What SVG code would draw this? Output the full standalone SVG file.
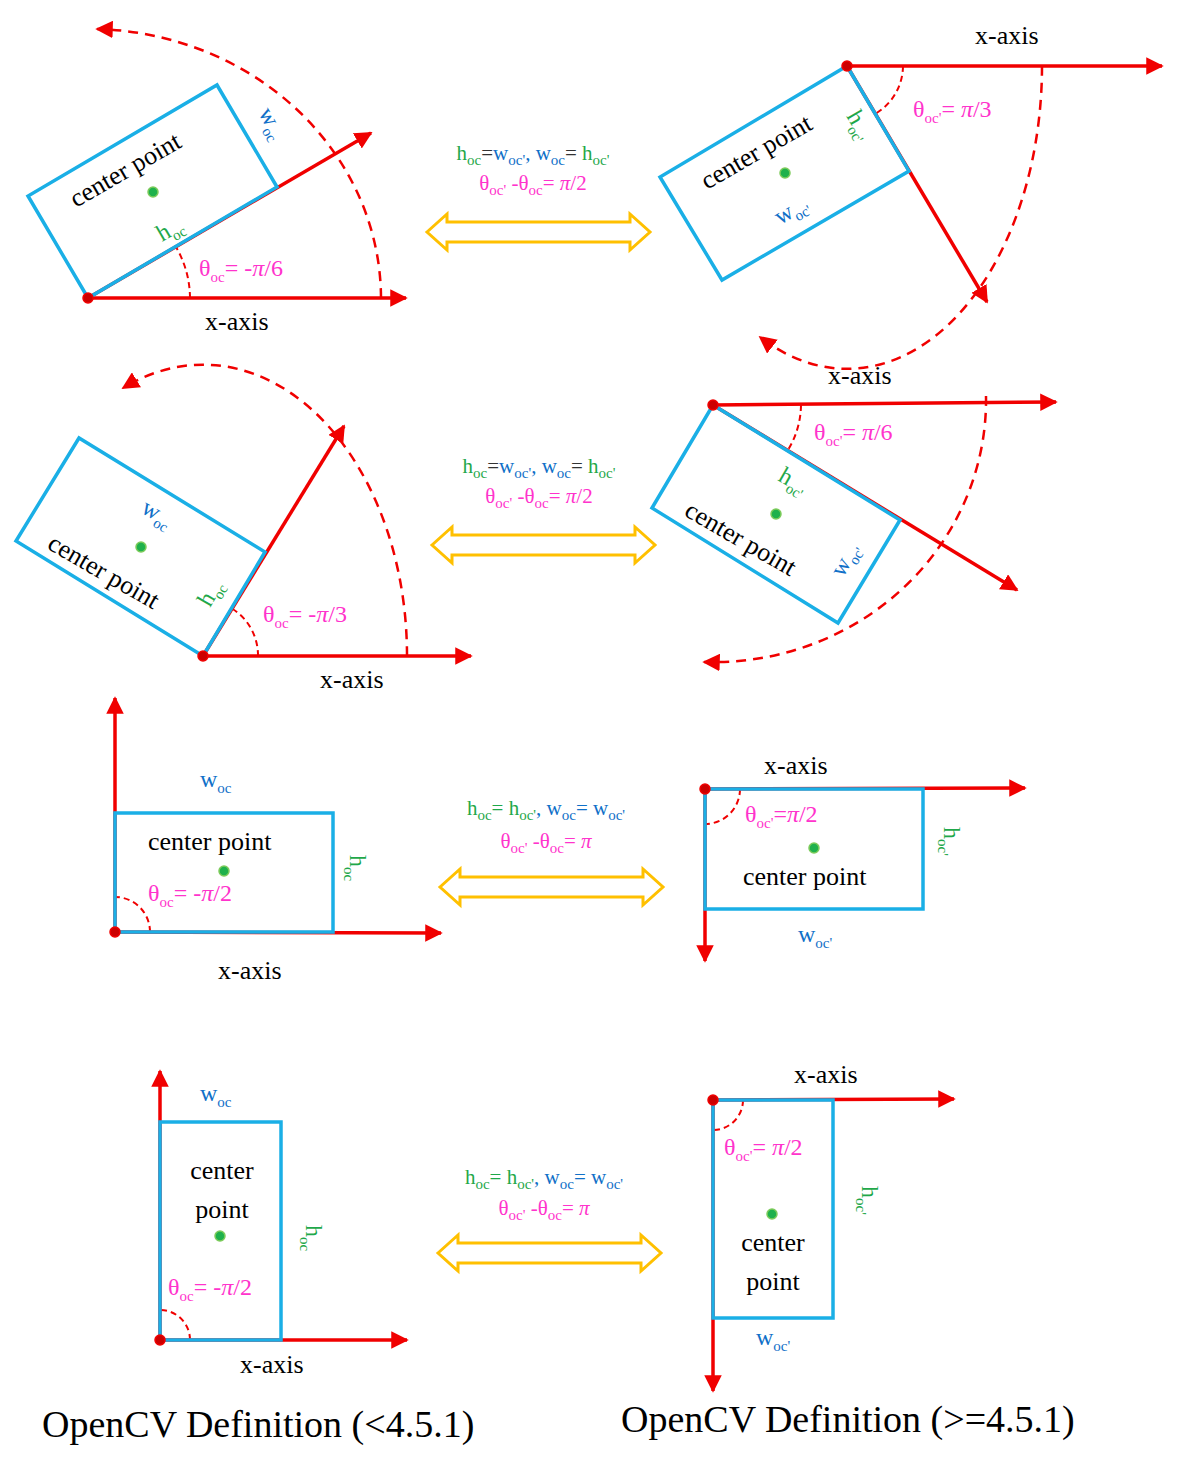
<svg xmlns="http://www.w3.org/2000/svg" width="1195" height="1464" viewBox="0 0 1195 1464">
<defs>
<marker id="ah" viewBox="0 0 10 10" refX="9" refY="5" markerWidth="5" markerHeight="5" orient="auto" markerUnits="strokeWidth"><path d="M0,0 L10,5 L0,10 z" fill="#F00000"/></marker>
<marker id="ahd" viewBox="0 0 10 10" refX="9" refY="5" markerWidth="7" markerHeight="7" orient="auto" markerUnits="strokeWidth"><path d="M0,0 L10,5 L0,10 z" fill="#F00000"/></marker>
<style>
.ax{stroke:#F00000;stroke-width:3.5;fill:none;marker-end:url(#ah)}
.dash{stroke:#F00000;stroke-width:2.5;fill:none;stroke-dasharray:10,7}
.dashA{stroke:#F00000;stroke-width:2.5;fill:none;stroke-dasharray:10,7;marker-end:url(#ahd)}
.ang{stroke:#F00000;stroke-width:2;fill:none;stroke-dasharray:6,4}
.rect{stroke:#1AAFE6;stroke-width:3.5;fill:none}
.o{fill:#CC0000;stroke:#F00000;stroke-width:1.5}
.c{fill:#1FB14C;stroke:#7CCB5A;stroke-width:1.5}
text{font-family:"Liberation Serif","Times New Roman",serif}
.lab{font-size:26px;fill:#000}
.g{fill:#1FA84A}.b{fill:#1070C8}.m{fill:#FF33CC}.k{fill:#333}
.f{font-size:21px}
.s{font-size:15px}
.dbl{fill:#fff;stroke:#FFC000;stroke-width:3}
.ttl{font-size:38px;fill:#000}
</style>
</defs>

<g id="connectors">
<!-- panel 1 -->
<path class="ax" d="M88,298 L406,298"/>
<path class="ax" d="M88,298 L371,133"/>
<path class="dashA" d="M381,298 A293,270 0 0 0 97,29"/>
<path class="ang" d="M190,298 A102,102 0 0 0 176,247"/>
<!-- panel 2 -->
<path class="ax" d="M847,66 L1162,66"/>
<path class="ax" d="M847,66 L987,302"/>
<path class="dashA" d="M1042,66 A195,303 0 0 1 760,337"/>
<path class="ang" d="M903,66 A56,56 0 0 1 875,114"/>
<!-- panel 3 -->
<path class="ax" d="M203,656 L471,656"/>
<path class="ax" d="M203,656 L344,426"/>
<path class="dashA" d="M407,656 A204,291 0 0 0 123,388"/>
<path class="ang" d="M258,656 A55,55 0 0 0 231,608"/>
<!-- panel 4 -->
<path class="ax" d="M713,405 L1056,402"/>
<path class="ax" d="M713,405 L1017,590"/>
<path class="dashA" d="M986,396 A273,262 0 0 1 704,662"/>
<path class="ang" d="M801,405 A88,88 0 0 1 788,450"/>
<!-- panel 5 -->
<path class="ax" d="M115,932 L441,933"/>
<path class="ax" d="M115,932 L115,698"/>
<path class="ang" d="M150,932 A35,35 0 0 0 115,897"/>
<!-- panel 6 -->
<path class="ax" d="M705,789 L1025,788"/>
<path class="ax" d="M705,789 L705,961"/>
<path class="ang" d="M740,789 A35,35 0 0 1 705,824"/>
<!-- panel 7 -->
<path class="ax" d="M160,1340 L407,1340"/>
<path class="ax" d="M160,1340 L160,1071"/>
<path class="ang" d="M190,1340 A30,30 0 0 0 160,1310"/>
<!-- panel 8 -->
<path class="ax" d="M713,1100 L954,1099"/>
<path class="ax" d="M713,1100 L713,1391"/>
<path class="ang" d="M743,1100 A30,30 0 0 1 713,1130"/>
</g>

<g id="panel1">
<polygon class="rect" points="88,298 28,196 217,85 277,187"/>
<circle class="c" cx="153" cy="192" r="5"/>
<circle class="o" cx="88" cy="298" r="5"/>
<text class="lab" transform="translate(76,208) rotate(-30)">center point</text>
<text class="b" font-size="24" transform="translate(258,113) rotate(60)">w<tspan class="s" dy="6">oc</tspan></text>
<text class="g" font-size="24" transform="translate(162,242) rotate(-30)">h<tspan class="s" dy="6">oc</tspan></text>
<text class="m" font-size="24" x="199" y="276">θ<tspan class="s" dy="6">oc</tspan><tspan dy="-6">= -<tspan font-style="italic">π</tspan>/6</tspan></text>
<text class="lab" x="205" y="330">x-axis</text>
</g>

<g id="panel2">
<polygon class="rect" points="847,66 909,171 722,280 660,177"/>
<circle class="c" cx="785" cy="173" r="5"/>
<circle class="o" cx="847" cy="66" r="5"/>
<text class="lab" transform="translate(707,190) rotate(-30)">center point</text>
<text class="g" font-size="24" transform="translate(846,116) rotate(60)">h<tspan class="s" dy="6">oc'</tspan></text>
<text class="b" font-size="24" transform="translate(780,225) rotate(-30)">w<tspan class="s" dy="6">oc'</tspan></text>
<text class="m" font-size="24" x="913" y="117">θ<tspan class="s" dy="6">oc'</tspan><tspan dy="-6">= <tspan font-style="italic">π</tspan>/3</tspan></text>
<text class="lab" x="975" y="44">x-axis</text>
</g>

<g id="panel3">
<polygon class="rect" points="203,656 16,541 79,438 265,552"/>
<circle class="c" cx="141" cy="547" r="5"/>
<circle class="o" cx="203" cy="656" r="5"/>
<text class="lab" transform="translate(46,548) rotate(30)">center point</text>
<text class="b" font-size="24" transform="translate(140,512) rotate(30)">w<tspan class="s" dy="6">oc</tspan></text>
<text class="g" font-size="24" transform="translate(210,608) rotate(-60)">h<tspan class="s" dy="6">oc</tspan></text>
<text class="m" font-size="24" x="263" y="622">θ<tspan class="s" dy="6">oc</tspan><tspan dy="-6">= -<tspan font-style="italic">π</tspan>/3</tspan></text>
<text class="lab" x="320" y="688">x-axis</text>
</g>

<g id="panel4">
<polygon class="rect" points="713,405 900,520 838,623 652,508"/>
<circle class="c" cx="776" cy="514" r="5"/>
<circle class="o" cx="713" cy="405" r="5"/>
<text class="lab" transform="translate(683,515) rotate(30)">center point</text>
<text class="g" font-size="24" transform="translate(777,480) rotate(30)">h<tspan class="s" dy="6">oc'</tspan></text>
<text class="b" font-size="24" transform="translate(843,578) rotate(-60)">w<tspan class="s" dy="6">oc'</tspan></text>
<text class="m" font-size="24" x="814" y="440">θ<tspan class="s" dy="6">oc'</tspan><tspan dy="-6">= <tspan font-style="italic">π</tspan>/6</tspan></text>
<text class="lab" x="828" y="384">x-axis</text>
</g>

<g id="panel5">
<rect class="rect" x="115" y="813" width="218" height="119"/>
<circle class="c" cx="224" cy="871" r="5"/>
<circle class="o" cx="115" cy="932" r="5"/>
<text class="lab" x="148" y="850">center point</text>
<text class="b" font-size="24" x="200" y="787">w<tspan class="s" dy="6">oc</tspan></text>
<text class="g" font-size="24" transform="translate(350,855) rotate(90)">h<tspan class="s" dy="6">oc</tspan></text>
<text class="m" font-size="24" x="148" y="901">θ<tspan class="s" dy="6">oc</tspan><tspan dy="-6">= -<tspan font-style="italic">π</tspan>/2</tspan></text>
<text class="lab" x="218" y="979">x-axis</text>
</g>

<g id="panel6">
<rect class="rect" x="705" y="789" width="218" height="120"/>
<circle class="c" cx="814" cy="848" r="5"/>
<circle class="o" cx="705" cy="789" r="5"/>
<text class="lab" x="743" y="885">center point</text>
<text class="g" font-size="24" transform="translate(944,827) rotate(90)">h<tspan class="s" dy="6">oc'</tspan></text>
<text class="b" font-size="24" x="798" y="942">w<tspan class="s" dy="6">oc'</tspan></text>
<text class="m" font-size="24" x="745" y="822">θ<tspan class="s" dy="6">oc'</tspan><tspan dy="-6">=<tspan font-style="italic">π</tspan>/2</tspan></text>
<text class="lab" x="764" y="774">x-axis</text>
</g>

<g id="panel7">
<rect class="rect" x="160" y="1122" width="121" height="218"/>
<circle class="c" cx="220" cy="1236" r="5"/>
<circle class="o" cx="160" cy="1340" r="5"/>
<text class="lab" x="222" y="1179" text-anchor="middle">center</text>
<text class="lab" x="222" y="1218" text-anchor="middle">point</text>
<text class="b" font-size="24" x="200" y="1101">w<tspan class="s" dy="6">oc</tspan></text>
<text class="g" font-size="24" transform="translate(306,1225) rotate(90)">h<tspan class="s" dy="6">oc</tspan></text>
<text class="m" font-size="24" x="168" y="1295">θ<tspan class="s" dy="6">oc</tspan><tspan dy="-6">= -<tspan font-style="italic">π</tspan>/2</tspan></text>
<text class="lab" x="240" y="1373">x-axis</text>
</g>

<g id="panel8">
<rect class="rect" x="713" y="1100" width="120" height="218"/>
<circle class="c" cx="772" cy="1214" r="5"/>
<circle class="o" cx="713" cy="1100" r="5"/>
<text class="lab" x="773" y="1251" text-anchor="middle">center</text>
<text class="lab" x="773" y="1290" text-anchor="middle">point</text>
<text class="g" font-size="24" transform="translate(862,1186) rotate(90)">h<tspan class="s" dy="6">oc'</tspan></text>
<text class="b" font-size="24" x="756" y="1345">w<tspan class="s" dy="6">oc'</tspan></text>
<text class="m" font-size="24" x="724" y="1155">θ<tspan class="s" dy="6">oc'</tspan><tspan dy="-6">= <tspan font-style="italic">π</tspan>/2</tspan></text>
<text class="lab" x="794" y="1083">x-axis</text>
</g>

<g id="arrow1">
<polygon class="dbl" points="427,232 447,214 447,222 630,222 630,214 650,232 630,250 630,242 447,242 447,250"/>
<text class="f" x="533" y="160" text-anchor="middle"><tspan class="g">h<tspan class="s" dy="5">oc</tspan></tspan><tspan class="k" dy="-5">=</tspan><tspan class="b">w<tspan class="s" dy="5">oc'</tspan><tspan dy="-5">, w</tspan><tspan class="s" dy="5">oc</tspan></tspan><tspan class="k" dy="-5">= </tspan><tspan class="g">h<tspan class="s" dy="5">oc'</tspan></tspan></text>
<text class="f m" x="533" y="190" text-anchor="middle">θ<tspan class="s" dy="5">oc'</tspan><tspan dy="-5"> -θ</tspan><tspan class="s" dy="5">oc</tspan><tspan dy="-5">= <tspan font-style="italic">π</tspan>/2</tspan></text>
</g>

<g id="arrow2">
<polygon class="dbl" points="432,545 452,527 452,535 635,535 635,527 655,545 635,563 635,555 452,555 452,563"/>
<text class="f" x="539" y="473" text-anchor="middle"><tspan class="g">h<tspan class="s" dy="5">oc</tspan></tspan><tspan class="k" dy="-5">=</tspan><tspan class="b">w<tspan class="s" dy="5">oc'</tspan><tspan dy="-5">, w</tspan><tspan class="s" dy="5">oc</tspan></tspan><tspan class="k" dy="-5">= </tspan><tspan class="g">h<tspan class="s" dy="5">oc'</tspan></tspan></text>
<text class="f m" x="539" y="503" text-anchor="middle">θ<tspan class="s" dy="5">oc'</tspan><tspan dy="-5"> -θ</tspan><tspan class="s" dy="5">oc</tspan><tspan dy="-5">= <tspan font-style="italic">π</tspan>/2</tspan></text>
</g>

<g id="arrow3">
<polygon class="dbl" points="440,887 460,869 460,877 643,877 643,869 663,887 643,905 643,897 460,897 460,905"/>
<text class="f" x="546" y="815" text-anchor="middle"><tspan class="g">h<tspan class="s" dy="5">oc</tspan><tspan dy="-5">= h</tspan><tspan class="s" dy="5">oc'</tspan></tspan><tspan class="b" dy="-5">, w<tspan class="s" dy="5">oc</tspan><tspan dy="-5">= w</tspan><tspan class="s" dy="5">oc'</tspan></tspan></text>
<text class="f m" x="546" y="848" text-anchor="middle">θ<tspan class="s" dy="5">oc'</tspan><tspan dy="-5"> -θ</tspan><tspan class="s" dy="5">oc</tspan><tspan dy="-5">= <tspan font-style="italic">π</tspan></tspan></text>
</g>

<g id="arrow4">
<polygon class="dbl" points="438,1253 458,1235 458,1243 641,1243 641,1235 661,1253 641,1271 641,1263 458,1263 458,1271"/>
<text class="f" x="544" y="1184" text-anchor="middle"><tspan class="g">h<tspan class="s" dy="5">oc</tspan><tspan dy="-5">= h</tspan><tspan class="s" dy="5">oc'</tspan></tspan><tspan class="b" dy="-5">, w<tspan class="s" dy="5">oc</tspan><tspan dy="-5">= w</tspan><tspan class="s" dy="5">oc'</tspan></tspan></text>
<text class="f m" x="544" y="1215" text-anchor="middle">θ<tspan class="s" dy="5">oc'</tspan><tspan dy="-5"> -θ</tspan><tspan class="s" dy="5">oc</tspan><tspan dy="-5">= <tspan font-style="italic">π</tspan></tspan></text>
</g>

<g id="titles">
<text class="ttl" x="42" y="1437">OpenCV Definition (&lt;4.5.1)</text>
<text class="ttl" x="621" y="1432">OpenCV Definition (&gt;=4.5.1)</text>
</g>
</svg>
